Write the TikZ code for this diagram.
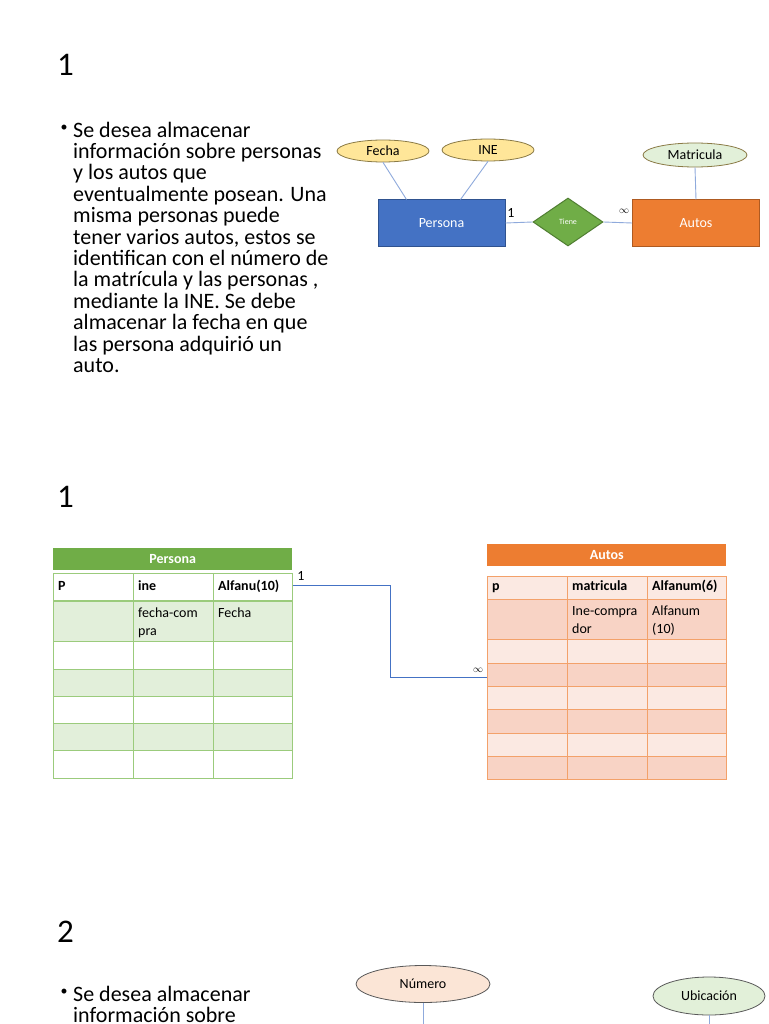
\documentclass[tikz,border=0pt]{standalone}
\usepackage{fontspec}
\setmainfont{Carlito}
\usetikzlibrary{shapes.geometric}
\definecolor{perblue}{HTML}{4472C4}
\definecolor{perborder}{HTML}{2F528F}
\definecolor{autorange}{HTML}{ED7D31}
\definecolor{autoborder}{HTML}{AE5A21}
\definecolor{relgreen}{HTML}{70AD47}
\definecolor{relborder}{HTML}{507E32}
\definecolor{attryellow}{HTML}{FFE699}
\definecolor{attrgreen}{HTML}{E2F0D9}
\definecolor{attrpeach}{HTML}{FBE5D6}
\definecolor{attrline}{HTML}{8A7A45}
\definecolor{linkblue}{HTML}{8FAADC}
\definecolor{rowgreen}{HTML}{E2EFDA}
\definecolor{gridgreen}{HTML}{9BCB7C}
\definecolor{rowlight}{HTML}{FBE9E2}
\definecolor{rowdark}{HTML}{F8D3C5}
\definecolor{gridorange}{HTML}{F3A16A}
\tikzset{
  title/.style={anchor=base west, inner sep=0pt, font=\fontsize{33}{36}\selectfont},
  bullettext/.style={anchor=base west, inner sep=0pt, align=left, font=\fontsize{22}{21.4}\selectfont},
  dot/.style={inner sep=0pt, font=\fontsize{14}{14}\selectfont},
  attr/.style={ellipse, draw=attrline, line width=0.8pt, inner sep=0pt, font=\fontsize{14}{16}\selectfont},
  entity/.style={rectangle, draw, line width=1pt, minimum width=127pt, minimum height=46pt, text=white, font=\fontsize{14}{16}\selectfont},
  rel/.style={diamond, aspect=1.45, draw=relborder, fill=relgreen, line width=1pt, minimum width=70pt, minimum height=48pt, inner sep=0pt, text=white, font=\fontsize{8}{9}\selectfont},
  erline/.style={draw=linkblue, line width=0.9pt},
  card/.style={inner sep=0pt, font=\fontsize{14}{16}\selectfont},
  tabhead/.style={anchor=north west, minimum width=239pt, minimum height=22pt, inner sep=0pt, text=white, font=\bfseries\fontsize{14}{16}\selectfont},
  cell/.style={anchor=base west, inner sep=0pt, align=left, font=\fontsize{14}{18}\selectfont},
  cellb/.style={cell, font=\bfseries\fontsize{14}{18}\selectfont},
  tabconn/.style={draw=perblue, line width=0.9pt}
}
\begin{document}
\begin{tikzpicture}[x=1pt, y=-1pt]
  \clip (0,0) rectangle (768,1024);
  \fill[white] (0,0) rectangle (768,1024);
  % first slide: statement (base = last line)
  \node[title] at (57,76) (t1) {1};
  \node[dot] at (64,128) (b1) {•};
  \node[bullettext] at (73,372.4) (s1) {Se desea almacenar\\
    información sobre personas\\
    y los autos que\\
    eventualmente posean. Una\\
    misma personas puede\\
    tener varios autos, estos se\\
    identifican con el número de\\
    la matrícula y las personas ,\\
    mediante la INE. Se debe\\
    almacenar la fecha en que\\
    las persona adquirió un\\
    auto.};
  % first slide: entity relation
  \node[attr, fill=attryellow, minimum width=92pt, minimum height=22pt] at (383,151) (fecha) {Fecha};
  \node[attr, fill=attryellow, minimum width=92pt, minimum height=22pt] at (488,150) (ine) {INE};
  \node[attr, fill=attrgreen, minimum width=104pt, minimum height=24pt] at (695,155) (matr) {Matricula};
  \node[entity, fill=perblue, draw=perborder] at (441.5,223) (persona) {Persona};
  \node[rel] at (568,222) (tiene) {Tiene};
  \node[entity, fill=autorange, draw=autoborder] at (696,223) (autos) {Autos};
  \draw[erline] (fecha.south) -- ([xshift=29pt]persona.north west);
  \draw[erline] (ine.south) -- ([xshift=-45pt]persona.north east);
  \draw[erline] (matr.south) -- (autos.north);
  \draw[erline] (persona.east) -- (tiene.west);
  \draw[erline] (tiene.east) -- (autos.west);
  \node[card] at (511,213) (c1) {1};
  \node[card] at (624,211) (c2) {$\scriptstyle\infty$};
  % second slide
  \node[title] at (57,507) (t2) {1};
  % persona table
  \node[tabhead, fill=relgreen] at (53,548) (phead) {Persona};
  \foreach \ya/\yb/\c in {573/600.7/white, 600.7/641.7/rowgreen, 641.7/669/white, 669/696/rowgreen,
      696/723/white, 723/750.7/rowgreen, 750.7/778/white}
    \fill[\c] (53,\ya) rectangle (292,\yb);
  \foreach \y in {641.7, 669, 696, 723, 750.7}
    \draw[gridgreen, line width=1pt] (53,\y) -- (292,\y);
  \foreach \x in {133, 213}
    \draw[gridgreen, line width=1pt] (\x,573) -- (\x,778);
  \draw[gridgreen, line width=1.8pt] (53,600.7) -- (292,600.7);
  \node[draw=gridgreen, line width=1.2pt, anchor=north west, minimum width=239pt, minimum height=205pt, inner sep=0pt] at (53,573) (ptab) {};
  \node[cellb] at (58,590.5) (pp) {P};
  \node[cellb] at (138,590.5) (pine) {ine};
  \node[cellb] at (218,590.5) (palf) {Alfanu(10)};
  \node[cell] at (138,635) (pfec) {fecha-com\\pra};
  \node[cell] at (218,617) (pfecha) {Fecha};
  % autos table
  \node[tabhead, fill=autorange] at (487,544) (ahead) {Autos};
  \foreach \ya/\yb/\c in {576/599/rowlight, 599/639/rowdark, 639/663/rowlight, 663/686/rowdark,
      686/709/rowlight, 709/733/rowdark, 733/756/rowlight, 756/779/rowdark}
    \fill[\c] (487,\ya) rectangle (726,\yb);
  \foreach \y in {599, 639, 663, 686, 709, 733, 756}
    \draw[gridorange, line width=1pt] (487,\y) -- (726,\y);
  \foreach \x in {567, 647}
    \draw[gridorange, line width=1pt] (\x,576) -- (\x,779);
  \node[draw=gridorange, line width=1.2pt, anchor=north west, minimum width=239pt, minimum height=203pt, inner sep=0pt] at (487,576) (atab) {};
  \node[cellb] at (492,590.5) (ap) {p};
  \node[cellb] at (572,590.5) (amatr) {matricula};
  \node[cellb] at (652,590.5) (aalf) {Alfanum(6)};
  \node[cell] at (572,633) (aine) {Ine-compra\\dor};
  \node[cell] at (652,633) (aalf2) {Alfanum\\(10)};
  % connector between tables
  \coordinate (pc) at ([yshift=-12pt]ptab.north east);
  \coordinate (ac) at ([yshift=-101pt]atab.north west);
  \draw[tabconn] (pc) -- ++(97,0) |- (ac);
  \node[card] at (301,576) (c3) {1};
  \node[card] at (478,670) (c4) {$\scriptstyle\infty$};
  % third slide
  \node[title] at (57,942) (t3) {2};
  \node[dot] at (64,992) (b3) {•};
  \node[bullettext] at (73,1022.4) (s3) {Se desea almacenar\\
    información sobre};
  \node[attr, fill=attrpeach, draw=black!65, minimum width=134pt, minimum height=37pt] at (423,984) (numero) {Número};
  \node[attr, fill=attrgreen, draw=black!65, minimum width=112pt, minimum height=38pt] at (709,996) (ubic) {Ubicación};
  \coordinate (nend) at ([yshift=-30pt]numero.south);
  \coordinate (uend) at ([yshift=-30pt]ubic.south);
  \draw[erline] (numero.south) -- (nend);
  \draw[erline] (ubic.south) -- (uend);
\end{tikzpicture}
\end{document}
